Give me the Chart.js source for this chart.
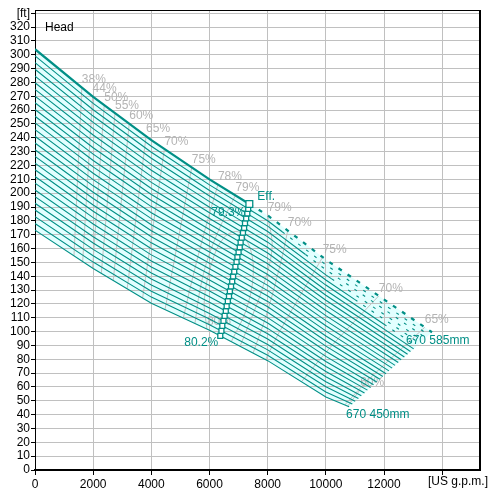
<!DOCTYPE html>
<html>
<head>
<meta charset="utf-8">
<script src="https://cdn.jsdelivr.net/npm/chart.js@4/dist/chart.umd.min.js"></script>
<style>
html, body { margin: 0; padding: 0; background: #fff; }
</style>
</head>
<body>
<canvas id="pumpChart" width="500" height="500"></canvas>
<script>
// impeller trims, 450 .. 585 mm
var diameters = [450,455,460,465,470,475,480,485,490,495,500,505,510,515,520,525,530,535,540,545,550,555,560,565,570,575,580,585];
// head [ft] read at these flows [US gpm]
var flowGrid = [0, 2000, 4000, 6000, 8000, 10000];
var headGrid = [
  [173.3,145.6,120.5,101.0, 79.0, 52.7],
  [178.1,150.2,124.9,105.0, 82.9, 56.4],
  [183.0,154.8,129.2,109.1, 86.8, 60.1],
  [187.8,159.4,133.6,113.1, 90.7, 63.7],
  [192.7,164.0,138.0,117.1, 94.6, 67.4],
  [197.5,168.5,142.3,121.2, 98.4, 71.1],
  [202.3,173.1,146.7,125.2,102.3, 74.8],
  [207.2,177.7,151.0,129.3,106.2, 78.4],
  [212.0,182.3,155.4,133.3,110.1, 82.1],
  [216.9,186.9,159.8,137.3,114.0, 85.8],
  [221.7,191.5,164.1,141.4,117.9, 89.5],
  [226.6,196.1,168.5,145.4,121.8, 93.2],
  [231.4,200.7,172.9,149.4,125.7, 96.8],
  [236.2,205.3,177.2,153.5,129.6,100.5],
  [241.1,209.8,181.6,157.5,133.4,104.2],
  [245.9,214.4,185.9,161.6,137.3,107.9],
  [250.8,219.0,190.3,165.6,141.2,111.5],
  [255.6,223.6,194.7,169.6,145.1,115.2],
  [260.4,228.2,199.0,173.7,149.0,118.9],
  [265.3,232.8,203.4,177.7,152.9,122.6],
  [270.1,237.4,207.8,181.7,156.8,126.3],
  [275.0,242.0,212.1,185.8,160.7,129.9],
  [279.8,246.6,216.5,189.8,164.6,133.6],
  [284.6,251.1,220.8,193.9,168.4,137.3],
  [289.5,255.7,225.2,197.9,172.3,141.0],
  [294.3,260.3,229.6,201.9,176.2,144.7],
  [299.2,264.9,233.9,206.0,180.1,148.3],
  [304.0,269.5,238.3,210.0,184.0,152.0]
];
// last point of each curve
var endFlow = [10800,10910,11010,11120,11220,11330,11430,11540,11640,11750,11860,11960,12070,12170,12280,12380,12490,12590,12700,12810,12910,13020,13120,13230,13330,13440,13540,13650];
var endHead = [45.7,47.7,49.7,51.7,53.7,55.7,57.7,59.6,61.6,63.6,65.6,67.6,69.6,71.6,73.6,75.6,77.6,79.6,81.6,83.6,85.6,87.5,89.5,91.5,93.5,95.5,97.5,99.5];
// best efficiency point of each curve
var bepFlow = [6370,6410,6440,6480,6520,6560,6590,6630,6670,6700,6740,6780,6810,6850,6890,6930,6960,7000,7040,7070,7110,7150,7190,7220,7260,7300,7330,7370];
var bepHead = [96.9,100.5,104.1,107.7,111.3,114.9,118.4,122.0,125.6,129.1,132.7,136.2,139.8,143.3,146.8,150.3,153.9,157.4,160.9,164.4,167.9,171.4,174.8,178.3,181.8,185.3,188.7,192.2];
// where the dashed part starts (null = solid to the end)
var dashFlow = [null,null,null,null,null,null,null,null,null,null,null,null,null,null,null,null,null,null,null,null,null,null,12000,11000,10200,9300,8500,7370];
var dashHead = [null,null,null,null,null,null,null,null,null,null,null,null,null,null,null,null,null,null,null,null,null,null,105.3,123.1,138.1,155.7,172.1,192.2];

// efficiency contours (first point carries the label)
var isoLabels = ['38%','44%','50%','55%','60%','65%','70%','75%','78%','79%','79%','70%','75%','70%','65%','60%','80%'];
var isoFlows = [
  [1610,1340],[1980,1640],[2380,1980],[2750,2280],[3240,2690],[3820,3170],[4450,3700],[5390,4470],
  [6290,5840,5400,5100],
  [6890,6430,5950,5670,5500],
  [8000,8150,7800,7350,7050],
  [8690,8450,8000,7500],
  [9890,8430,7930],
  [11820,10160,9160],
  [13400,11500,10650],
  [11180,10750],
  [5910,5820,6080,6500,7000,7400,7500,7250,6750]
];
var isoHeads = [
  [276.2,154.7],[269.8,150.6],[263.6,145.9],[257.8,142.1],[250.2,136.9],[241.1,130.9],[232.0,124.3],[218.6,115.9],
  [206.2,173.3,137.2,109.8],
  [198.4,178.7,153.4,130.0,105.9],
  [184.0,160.0,130.0,105.0,89.5],
  [173.0,150.0,115.0,84.5],
  [153.8,100.8,79.8],
  [125.8,88.8,63.7],
  [103.1,66.0,47.0],
  [58.0,46.1],
  [101.8,122.7,150.0,168.0,172.0,160.0,140.0,115.0,92.8]
];

var xTickValues = [0, 2000, 4000, 6000, 8000, 10000, 12000, 14000];
var xMax = 15300;
var yMax = 331.6, yStep = 10;

var TEAL = '#008f86';
var GREY_TXT = '#b4b4b4';
var FONT = 'Arial, "Liberation Sans", sans-serif';
var last = diameters.length - 1;

function curvePoints(i) {
  var pts = flowGrid.map(function (q, j) { return { x: q, y: headGrid[i][j] }; });
  if (dashFlow[i] !== null) pts.push({ x: dashFlow[i], y: dashHead[i] });
  pts.push({ x: endFlow[i], y: endHead[i] });
  pts.sort(function (a, b) { return a.x - b.x; });
  return pts;
}

var datasets = [];
isoLabels.forEach(function (lbl, k) {
  datasets.push({
    label: 'eta ' + lbl,
    data: isoFlows[k].map(function (q, j) { return { x: q, y: isoHeads[k][j] }; }),
    showLine: true, borderColor: '#c2c2c2', borderWidth: 1, pointRadius: 0,
    tension: 0.35, order: 10
  });
});
diameters.forEach(function (d, i) {
  var top = i === last;
  datasets.push({
    label: d + 'mm',
    data: curvePoints(i),
    showLine: true, borderColor: TEAL, borderWidth: top ? 2.2 : 1.1, pointRadius: 0,
    order: top ? 2 : 5,
    segment: {
      borderDash: function (ctx) {
        if (dashFlow[i] !== null && ctx.p0.parsed.x >= dashFlow[i] - 1) return top ? [4, 7] : [3, 7];
        return undefined;
      }
    }
  });
});
datasets.push({
  label: 'Eff.',
  data: bepFlow.map(function (q, i) { return { x: q, y: bepHead[i] }; }),
  showLine: false, pointStyle: 'rect',
  pointRadius: function (ctx) { return ctx.dataIndex === last ? 4.8 : 3.5; },
  pointBorderColor: TEAL, pointBackgroundColor: '#ffffff', pointBorderWidth: 1.3,
  order: 1
});

function px(chart, q, h) {
  return [chart.scales.x.getPixelForValue(q), chart.scales.y.getPixelForValue(h)];
}

var bandFill = {
  id: 'bandFill',
  beforeDraw: function (chart) {
    var ctx = chart.ctx, a = chart.chartArea;
    var poly = curvePoints(last);
    for (var i = last - 1; i >= 0; i--) poly.push({ x: endFlow[i], y: endHead[i] });
    poly = poly.concat(curvePoints(0).reverse());
    ctx.save();
    ctx.beginPath();
    ctx.rect(a.left, a.top, a.right - a.left, a.bottom - a.top);
    ctx.clip();
    ctx.beginPath();
    poly.forEach(function (p, k) {
      var c = px(chart, p.x, p.y);
      if (k === 0) ctx.moveTo(c[0], c[1]); else ctx.lineTo(c[0], c[1]);
    });
    ctx.closePath();
    ctx.fillStyle = '#e2ffff';
    ctx.fill();
    ctx.restore();
  },
  beforeDatasetsDraw: function (chart) {
    var ctx = chart.ctx;
    ctx.save();
    ctx.font = '12px ' + FONT;
    ctx.textBaseline = 'middle';
    ctx.textAlign = 'left';
    ctx.fillStyle = GREY_TXT;
    isoLabels.forEach(function (lbl, k) {
      var c = px(chart, isoFlows[k][0], isoHeads[k][0]);
      ctx.fillText(lbl, c[0], c[1] - 7.5);
    });
    ctx.fillStyle = TEAL;
    var b = px(chart, bepFlow[last], bepHead[last]);
    ctx.fillText('Eff.', b[0] + 8, b[1] - 7);
    ctx.textAlign = 'right';
    ctx.fillText('79.3%', b[0] - 4, b[1] + 9);
    var b0 = px(chart, bepFlow[0], bepHead[0]);
    ctx.fillText('80.2%', b0[0] - 2, b0[1] + 7);
    ctx.textAlign = 'left';
    var e = px(chart, endFlow[last], endHead[last]);
    ctx.fillText('670 ' + diameters[last] + 'mm', e[0] - 26, e[1] + 8);
    var e0 = px(chart, endFlow[0], endHead[0]);
    ctx.fillText('670 ' + diameters[0] + 'mm', e0[0] - 3, e0[1] + 8);
    ctx.restore();
  },
  afterDraw: function (chart) {
    var ctx = chart.ctx, a = chart.chartArea;
    ctx.save();
    ctx.fillStyle = '#000';
    ctx.fillRect(a.left, a.top - 1, a.right - a.left + 1, 1);
    ctx.fillRect(a.right - 1, a.top - 1, 2, a.bottom - a.top + 2);
    ctx.font = '12px ' + FONT;
    ctx.textBaseline = 'middle';
    ctx.textAlign = 'left';
    ctx.fillText('Head', a.left + 10, a.top + 17);
    ctx.textAlign = 'center';
    ctx.fillText('[US g.p.m.]', a.right - 22, a.bottom + 12);
    ctx.restore();
  }
};

new Chart(document.getElementById('pumpChart'), {
  type: 'scatter',
  data: { datasets: datasets },
  options: {
    responsive: false,
    animation: false,
    events: [],
    layout: { padding: { top: 11, right: 20, left: 0, bottom: 0 } },
    plugins: { legend: { display: false }, tooltip: { enabled: false } },
    scales: {
      x: {
        type: 'linear', min: 0, max: xMax,
        afterFit: function (s) { s.height = 30; },
        afterBuildTicks: function (s) {
          s.ticks = xTickValues.map(function (v) { return { value: v }; });
        },
        ticks: {
          autoSkip: false, maxRotation: 0,
          color: '#000', font: { family: FONT, size: 12 }, padding: 2,
          callback: function (v) { return v === 14000 ? '' : String(v); }
        },
        grid: { color: '#c0c0c0', tickColor: '#000', tickLength: 5 },
        border: { color: '#000', width: 2 }
      },
      y: {
        type: 'linear', min: 0, max: yMax,
        afterFit: function (s) { s.width = 35; },
        ticks: {
          stepSize: yStep, includeBounds: false, autoSkip: false,
          color: '#000', font: { family: FONT, size: 12 }, padding: 1,
          callback: function (v) { return v === 330 ? '[ft]' : String(v); }
        },
        grid: { color: '#c0c0c0', tickColor: '#000', tickLength: 4 },
        border: { color: '#000', width: 1 }
      }
    }
  },
  plugins: [bandFill]
});
</script>
</body>
</html>
